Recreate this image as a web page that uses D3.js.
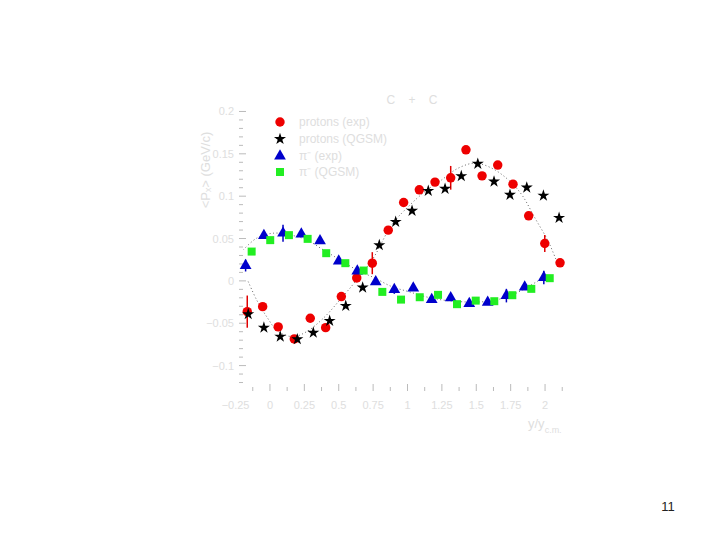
<!DOCTYPE html>
<html>
<head>
<meta charset="utf-8">
<script src="https://cdn.jsdelivr.net/npm/d3@7"></script>
<style>
    body { margin: 0; background: #fff; }
    svg { display: block; font-family: "Liberation Sans", Arial, sans-serif; }
</style>
</head>
<body>
<div id="chart"></div>
<script>
// rapidity (y/y_cm) and <p_x> values
const protonExpX = [-0.165, -0.053, 0.060, 0.177, 0.293, 0.405, 0.519, 0.631, 0.744, 0.860, 0.972,
    1.086, 1.200, 1.314, 1.425, 1.542, 1.656, 1.767, 1.881, 1.998, 2.109];
const protonExpY = [-0.0363, -0.0304, -0.0543, -0.0685, -0.0441, -0.0552, -0.0185, 0.0035, 0.0209, 0.0599, 0.0925,
    0.1075, 0.1166, 0.1217, 0.1547, 0.1240, 0.1367, 0.1142, 0.0768, 0.0441, 0.0213];
const protonExpErr = [0.019, 0, 0, 0, 0, 0, 0, 0, 0.013, 0, 0,
    0, 0, 0.014, 0, 0, 0, 0, 0, 0.010, 0];

const protonQgsmX = [-0.158, -0.044, 0.075, 0.199, 0.315, 0.434, 0.551, 0.674, 0.795, 0.914,
    1.033, 1.151, 1.273, 1.391, 1.511, 1.629, 1.745, 1.867, 1.988, 2.102];
const protonQgsmY = [-0.0393, -0.0552, -0.0658, -0.0689, -0.0611, -0.0472, -0.0295, -0.0079, 0.0422, 0.0697,
    0.0827, 0.1063, 0.1087, 0.1237, 0.1382, 0.1173, 0.1016, 0.1102, 0.1007, 0.0744];

const pionExpX = [-0.177, -0.044, 0.095, 0.228, 0.364, 0.500, 0.635, 0.769, 0.904,
    1.042, 1.176, 1.314, 1.449, 1.583, 1.719, 1.852, 1.991];
const pionExpY = [0.0181, 0.0535, 0.0563, 0.0552, 0.0472, 0.0233, 0.0115, -0.0012, -0.0103,
    -0.0086, -0.0221, -0.0201, -0.0268, -0.0252, -0.0174, -0.0074, 0.0039];
const pionExpErr = [0.007, 0, 0.010, 0, 0, 0, 0, 0, 0.005,
    0, 0, 0, 0, 0, 0.008, 0, 0.008];

const pionQgsmX = [-0.133, 0.002, 0.138, 0.274, 0.409, 0.548, 0.681, 0.817, 0.953,
    1.089, 1.222, 1.360, 1.496, 1.631, 1.762, 1.900, 2.034];
const pionQgsmY = [0.0346, 0.0481, 0.0540, 0.0496, 0.0327, 0.0209, 0.0122, -0.0130, -0.0221,
    -0.0193, -0.0165, -0.0275, -0.0233, -0.0240, -0.0169, -0.0094, 0.0032];

// dotted guide curves
const protonCurveX = [-0.158, -0.097, -0.024, 0.060, 0.169, 0.267, 0.388, 0.509, 0.631, 0.751, 0.885,
    1.006, 1.127, 1.249, 1.369, 1.491, 1.612, 1.733, 1.831, 1.927, 2.024, 2.085];
const protonCurveY = [-0.0008, -0.0224, -0.0422, -0.0599, -0.0658, -0.0599, -0.0441, -0.0224, 0.0012, 0.0268, 0.0661,
    0.0877, 0.1055, 0.1193, 0.1331, 0.1390, 0.1331, 0.1193, 0.1016, 0.0741, 0.0464, 0.0228];
const pionCurveX = [-0.194, -0.097, 0.024, 0.145, 0.267, 0.388, 0.509, 0.631, 0.764, 0.885,
    1.006, 1.176, 1.369, 1.564, 1.733, 1.879, 2.000];
const pionCurveY = [0.0366, 0.0504, 0.0563, 0.0543, 0.0484, 0.0366, 0.0248, 0.0130, 0.0032, -0.0067,
    -0.0126, -0.0204, -0.0244, -0.0244, -0.0185, -0.0067, 0.0051];

const xMajorTicks = [-0.25, 0, 0.25, 0.5, 0.75, 1, 1.25, 1.5, 1.75, 2];
const yMajorTicks = [-0.1, -0.05, 0, 0.05, 0.1, 0.15, 0.2];
const legendLabels = ['protons (exp)', 'protons (QGSM)', 'π\u207B (exp)', 'π\u207B (QGSM)'];

const faint = '#dedede';

function zip(xs, ys, errs) {
    return xs.map((x, i) => ({ x: x, y: ys[i], e: errs ? errs[i] : 0 }));
}

function drawChart() {
    const width = 720, height = 540;
    const svg = d3.select('#chart').append('svg')
        .attr('width', width)
        .attr('height', height);

    const x = d3.scaleLinear().domain([-0.225, 2.145]).range([239, 565]);
    const y = d3.scaleLinear().domain([-0.13, 0.21]).range([391, 103]);

    // axes, ROOT style: ticks pointing inward, faint labels
    const xg = svg.append('g').attr('transform', 'translate(0,391)');
    xg.selectAll('line.tk')
        .data(d3.range(-0.125, 2.13, 0.125))
        .join('line')
        .attr('x1', d => x(d)).attr('x2', d => x(d))
        .attr('y1', 0)
        .attr('y2', d => Math.abs(d / 0.25 - Math.round(d / 0.25)) < 1e-6 ? -7 : -4)
        .attr('stroke', '#bbb');
    xg.selectAll('text')
        .data(xMajorTicks)
        .join('text')
        .attr('x', d => x(d))
        .attr('y', 18)
        .attr('text-anchor', 'middle')
        .attr('font-size', '11px')
        .attr('fill', faint)
        .text(d => d3.format('~g')(d).replace('-', '\u2212'));

    const yg = svg.append('g').attr('transform', 'translate(239,0)');
    yg.selectAll('line.tk')
        .data(d3.range(-0.12, 0.205, 0.01))
        .join('line')
        .attr('y1', d => y(d)).attr('y2', d => y(d))
        .attr('x1', 0)
        .attr('x2', d => Math.abs(d / 0.05 - Math.round(d / 0.05)) < 1e-6 ? 7 : 4)
        .attr('stroke', '#bbb');
    yg.selectAll('text')
        .data(yMajorTicks)
        .join('text')
        .attr('x', -5)
        .attr('y', d => y(d) + 4)
        .attr('text-anchor', 'end')
        .attr('font-size', '11px')
        .attr('fill', faint)
        .text(d => d3.format('~g')(d).replace('-', '\u2212'));

    // axis titles
    const xt = svg.append('text')
        .attr('x', 528).attr('y', 428)
        .attr('font-size', '13px')
        .attr('fill', faint);
    xt.append('tspan').text('y/y');
    xt.append('tspan').attr('dy', 5).attr('font-size', '9px').text('c.m.');

    svg.append('text')
        .attr('transform', 'translate(210,170) rotate(-90)')
        .attr('text-anchor', 'middle')
        .attr('font-size', '13px')
        .attr('fill', faint)
        .text('<P\u2093> (GeV/c)');

    svg.append('text')
        .attr('x', 412).attr('y', 104)
        .attr('text-anchor', 'middle')
        .attr('font-size', '12px')
        .attr('fill', faint)
        .style('white-space', 'pre')
        .text('C    +    C');

    // dotted curves
    const line = d3.line()
        .x(d => x(d.x))
        .y(d => y(d.y))
        .curve(d3.curveCatmullRom);
    [zip(protonCurveX, protonCurveY), zip(pionCurveX, pionCurveY)].forEach(pts => {
        svg.append('path')
            .attr('d', line(pts))
            .attr('fill', 'none')
            .attr('stroke', '#666')
            .attr('stroke-width', 1)
            .attr('stroke-dasharray', '1,2.5');
    });

    // error bars
    function errorBars(pts, color) {
        svg.append('g').selectAll('line')
            .data(pts.filter(d => d.e > 0))
            .join('line')
            .attr('x1', d => x(d.x)).attr('x2', d => x(d.x))
            .attr('y1', d => y(d.y - d.e)).attr('y2', d => y(d.y + d.e))
            .attr('stroke', color)
            .attr('stroke-width', 1.5);
    }

    const protonExp = zip(protonExpX, protonExpY, protonExpErr);
    const pionExp = zip(pionExpX, pionExpY, pionExpErr);
    errorBars(protonExp, '#e00000');
    errorBars(pionExp, '#0000c0');

    const symbols = [
        { type: d3.symbolCircle, size: 70, color: '#ee0000' },
        { type: d3.symbolStar, size: 45, color: '#000000' },
        { type: d3.symbolTriangle, size: 60, color: '#0000cc' },
        { type: d3.symbolSquare, size: 64, color: '#22ee22' }
    ];
    const series = [
        protonExp,
        zip(protonQgsmX, protonQgsmY),
        pionExp,
        zip(pionQgsmX, pionQgsmY)
    ];

    series.forEach((pts, i) => {
        const s = symbols[i];
        svg.append('g').selectAll('path')
            .data(pts)
            .join('path')
            .attr('transform', d => `translate(${x(d.x)},${y(d.y)})`)
            .attr('d', d3.symbol().type(s.type).size(s.size))
            .attr('fill', s.color);
    });

    // legend
    const legendY = [122, 139, 156, 172];
    legendLabels.forEach((label, i) => {
        const s = symbols[i];
        svg.append('path')
            .attr('transform', `translate(280,${legendY[i]})`)
            .attr('d', d3.symbol().type(s.type).size(s.size))
            .attr('fill', s.color);
        svg.append('text')
            .attr('x', 299)
            .attr('y', legendY[i] + 4)
            .attr('font-size', '12px')
            .attr('fill', faint)
            .text(label);
    });

    // page number
    svg.append('text')
        .attr('x', 668).attr('y', 511)
        .attr('text-anchor', 'middle')
        .attr('font-size', '13px')
        .attr('fill', '#222')
        .text('11');
}

document.addEventListener('DOMContentLoaded', drawChart);
</script>
</body>
</html>
